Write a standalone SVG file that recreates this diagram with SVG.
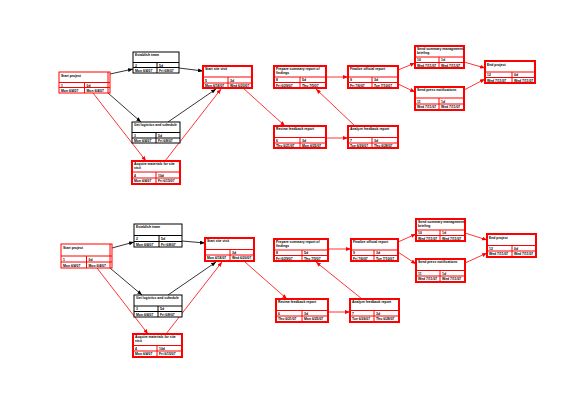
<svg xmlns="http://www.w3.org/2000/svg" width="585" height="411" viewBox="0 0 585 411">
<style>
.nr{fill:#fff;stroke:#f00;stroke-width:2}
.nt{fill:#fff;stroke:#f00;stroke-width:1}
.nb{fill:#fff;stroke:#000;stroke-width:1}
.lr{stroke:#f00;stroke-width:1;fill:none}
.lb{stroke:#000;stroke-width:1;fill:none}
.t{font-family:"Liberation Sans",Arial,sans-serif;font-size:3.4px;font-weight:bold;fill:#000}
.cr{stroke:#f00;stroke-width:0.8;fill:none;marker-end:url(#ar)}
.cb{stroke:#000;stroke-width:0.8;fill:none;marker-end:url(#ab)}
</style>
<defs>
<marker id="ab" markerWidth="5" markerHeight="4" refX="5" refY="2" orient="auto" markerUnits="userSpaceOnUse"><path d="M0,0 L5,2 L0,4z" fill="#000"/></marker>
<marker id="ar" markerWidth="5" markerHeight="4" refX="5" refY="2" orient="auto" markerUnits="userSpaceOnUse"><path d="M0,0 L5,2 L0,4z" fill="#f00"/></marker>
</defs>
<rect width="585" height="411" fill="#fff"/>

<g id="connectors">
<path class="cb" d="M110,74 L133,69"/>
<path class="cb" d="M108,93 L141,122"/>
<path class="cr" d="M93,93 L146,161"/>
<path class="cb" d="M179,68 L203,71"/>
<path class="cb" d="M168,122 L216,89"/>
<path class="cr" d="M165,161 L221,89"/>
<path class="cr" d="M243,88 L285,126"/>
<path class="cr" d="M326,77 L348,77"/>
<path class="cr" d="M326,138 L348,138"/>
<path class="cr" d="M355,126 L316,89"/>
<path class="cr" d="M398,70 L415,63"/>
<path class="cr" d="M398,84 L415,92"/>
<path class="cr" d="M464,62 L485,68"/>
<path class="cr" d="M464,90 L485,79"/>

<path class="cb" d="M112,248 L134,242"/>
<path class="cb" d="M110,268 L142,295"/>
<path class="cr" d="M97,268 L148,334"/>
<path class="cb" d="M182,241 L205,243"/>
<path class="cb" d="M168,295 L216,262"/>
<path class="cr" d="M166,334 L222,262"/>
<path class="cr" d="M245,262 L287,299"/>
<path class="cr" d="M328,249 L351,249"/>
<path class="cr" d="M328,312 L350,312"/>
<path class="cr" d="M362,299 L316,262"/>
<path class="cr" d="M398,242 L416,234"/>
<path class="cr" d="M398,252 L416,264"/>
<path class="cr" d="M465,233 L487,240"/>
<path class="cr" d="M465,263 L487,253"/>
</g>

<!-- TOP DIAGRAM -->
<g id="t1">
<rect class="nt" x="59" y="72" width="51" height="21"/>
<path class="lr" d="M59,82.5H110M59,87.5H110M84.5,82.5V93M108,72V93"/>
<text class="t" x="61" y="77">Start project</text>
<text class="t" x="61" y="86.5">1</text><text class="t" x="86.5" y="86.5">0d</text>
<text class="t" x="61" y="91.5">Mon 6/4/07</text><text class="t" x="86.5" y="91.5">Mon 6/4/07</text>
</g>
<g id="t2">
<rect class="nb" x="133" y="52" width="46" height="21"/>
<path class="lb" d="M133,62.5H179M133,67.5H179M157,62.5V73"/>
<text class="t" x="135" y="55.5">Establish team</text>
<text class="t" x="135" y="66.5">2</text><text class="t" x="159" y="66.5">5d</text>
<text class="t" x="135" y="71.5">Mon 6/4/07</text><text class="t" x="159" y="71.5">Fri 6/8/07</text>
</g>
<g id="t3">
<rect class="nb" x="132" y="122" width="48" height="21"/>
<path class="lb" d="M132,132.5H180M132,138H180M156,132.5V143"/>
<text class="t" x="134" y="126">Get logistics and schedule</text>
<text class="t" x="134" y="136.5">3</text><text class="t" x="158" y="136.5">5d</text>
<text class="t" x="134" y="142">Mon 6/4/07</text><text class="t" x="158" y="142">Fri 6/8/07</text>
</g>
<g id="t4">
<rect class="nr" x="132" y="161" width="48" height="23"/>
<path class="lr" d="M132,172H180M132,178H180M156,172V184"/>
<text class="t" x="134" y="165">Acquire materials for site</text>
<text class="t" x="134" y="169">visit</text>
<text class="t" x="134" y="176.5">4</text><text class="t" x="158" y="176.5">10d</text>
<text class="t" x="134" y="182">Mon 6/4/07</text><text class="t" x="158" y="182">Fri 6/15/07</text>
</g>
<g id="t5">
<rect class="nr" x="203" y="66" width="49" height="22"/>
<path class="lr" d="M203,77H252M203,83H252M228,77V88"/>
<text class="t" x="205" y="70">Start site visit</text>
<text class="t" x="205" y="81.5">5</text><text class="t" x="230" y="81.5">3d</text>
<text class="t" x="205" y="87">Mon 6/18/07</text><text class="t" x="230" y="87">Wed 6/20/07</text>
</g>
<g id="t6">
<rect class="nr" x="274" y="126" width="52" height="22"/>
<path class="lr" d="M274,137.5H326M274,143H326M300,137.5V148"/>
<text class="t" x="276" y="130">Review feedback report</text>
<text class="t" x="276" y="141.5">6</text><text class="t" x="302" y="141.5">3d</text>
<text class="t" x="276" y="146.5">Thu 6/21/07</text><text class="t" x="302" y="146.5">Mon 6/25/07</text>
</g>
<g id="t7">
<rect class="nr" x="348" y="126" width="50" height="22"/>
<path class="lr" d="M348,137.5H398M348,143H398M372,137.5V148"/>
<text class="t" x="350" y="130">Analyze feedback report</text>
<text class="t" x="350" y="141.5">7</text><text class="t" x="374" y="141.5">3d</text>
<text class="t" x="350" y="146.5">Tue 6/26/07</text><text class="t" x="374" y="146.5">Thu 6/28/07</text>
</g>
<g id="t8">
<rect class="nr" x="274" y="66" width="52" height="22"/>
<path class="lr" d="M274,77H326M274,82.5H326M300,77V88"/>
<text class="t" x="276" y="70">Prepare summary report of</text>
<text class="t" x="276" y="74">findings</text>
<text class="t" x="276" y="81">8</text><text class="t" x="302" y="81">5d</text>
<text class="t" x="276" y="86.5">Fri 6/29/07</text><text class="t" x="302" y="86.5">Thu 7/5/07</text>
</g>
<g id="t9">
<rect class="nr" x="348" y="66" width="50" height="22"/>
<path class="lr" d="M348,77H398M348,82.5H398M372,77V88"/>
<text class="t" x="350" y="70">Finalize official report</text>
<text class="t" x="350" y="81">9</text><text class="t" x="374" y="81">3d</text>
<text class="t" x="350" y="86.5">Fri 7/6/07</text><text class="t" x="374" y="86.5">Tue 7/10/07</text>
</g>
<g id="t10">
<rect class="nr" x="415" y="46" width="49" height="22"/>
<path class="lr" d="M415,57H464M415,62.5H464M439,57V68"/>
<text class="t" x="417" y="50">Send summary management</text>
<text class="t" x="417" y="54">briefing</text>
<text class="t" x="417" y="61">10</text><text class="t" x="441" y="61">1d</text>
<text class="t" x="417" y="66.5">Wed 7/11/07</text><text class="t" x="441" y="66.5">Wed 7/11/07</text>
</g>
<g id="t11">
<rect class="nr" x="415" y="87" width="49" height="23"/>
<path class="lr" d="M415,98H464M415,104H464M439,98V110"/>
<text class="t" x="417" y="91">Send press notifications</text>
<text class="t" x="417" y="102.5">11</text><text class="t" x="441" y="102.5">1d</text>
<text class="t" x="417" y="108">Wed 7/11/07</text><text class="t" x="441" y="108">Wed 7/11/07</text>
</g>
<g id="t12">
<rect class="nr" x="485" y="61" width="50" height="22"/>
<path class="lr" d="M485,72H535M485,77.5H535M512,72V83"/>
<text class="t" x="487" y="66">End project</text>
<text class="t" x="487" y="76">12</text><text class="t" x="514" y="76">0d</text>
<text class="t" x="487" y="81.5">Wed 7/11/07</text><text class="t" x="514" y="81.5">Wed 7/11/07</text>
</g>

<!-- BOTTOM DIAGRAM -->
<g id="b1">
<rect class="nt" x="61" y="244" width="51" height="24"/>
<path class="lr" d="M61,256H112M61,262H112M86.5,256V268M110,244V268"/>
<text class="t" x="63" y="249">Start project</text>
<text class="t" x="63" y="260.5">1</text><text class="t" x="88.5" y="260.5">0d</text>
<text class="t" x="63" y="266.5">Mon 6/4/07</text><text class="t" x="88.5" y="266.5">Mon 6/4/07</text>
</g>
<g id="b2">
<rect class="nb" x="134" y="224" width="48" height="23"/>
<path class="lb" d="M134,235.5H182M134,241.5H182M159,235.5V247"/>
<text class="t" x="136" y="228">Establish team</text>
<text class="t" x="136" y="240">2</text><text class="t" x="161" y="240">5d</text>
<text class="t" x="136" y="245.5">Mon 6/4/07</text><text class="t" x="161" y="245.5">Fri 6/8/07</text>
</g>
<g id="b3">
<rect class="nb" x="134" y="295" width="48" height="22"/>
<path class="lb" d="M134,306H182M134,311.5H182M158,306V317"/>
<text class="t" x="136" y="299">Get logistics and schedule</text>
<text class="t" x="136" y="310">3</text><text class="t" x="160" y="310">5d</text>
<text class="t" x="136" y="315.5">Mon 6/4/07</text><text class="t" x="160" y="315.5">Fri 6/8/07</text>
</g>
<g id="b4">
<rect class="nr" x="133" y="334" width="49" height="23"/>
<path class="lr" d="M133,345.5H182M133,351H182M157,345.5V357"/>
<text class="t" x="135" y="338">Acquire materials for site</text>
<text class="t" x="135" y="342">visit</text>
<text class="t" x="135" y="349.5">4</text><text class="t" x="159" y="349.5">10d</text>
<text class="t" x="135" y="355">Mon 6/4/07</text><text class="t" x="159" y="355">Fri 6/15/07</text>
</g>
<g id="b5">
<rect class="nr" x="205" y="238" width="49" height="23"/>
<path class="lr" d="M205,249.5H254M205,255H254M230,249.5V261"/>
<text class="t" x="207" y="242">Start site visit</text>
<text class="t" x="232" y="253.5">3d</text>
<text class="t" x="207" y="259">Mon 6/18/07</text><text class="t" x="232" y="259">Wed 6/20/07</text>
</g>
<g id="b6">
<rect class="nr" x="276" y="299" width="52" height="23"/>
<path class="lr" d="M276,310.5H328M276,316H328M302,310.5V322"/>
<text class="t" x="278" y="303">Review feedback report</text>
<text class="t" x="278" y="314.5">6</text><text class="t" x="304" y="314.5">3d</text>
<text class="t" x="278" y="320">Thu 6/21/07</text><text class="t" x="304" y="320">Mon 6/25/07</text>
</g>
<g id="b7">
<rect class="nr" x="350" y="299" width="49" height="23"/>
<path class="lr" d="M350,310.5H399M350,316H399M374,310.5V322"/>
<text class="t" x="352" y="303">Analyze feedback report</text>
<text class="t" x="352" y="314.5">7</text><text class="t" x="376" y="314.5">3d</text>
<text class="t" x="352" y="320">Tue 6/26/07</text><text class="t" x="376" y="320">Thu 6/28/07</text>
</g>
<g id="b8">
<rect class="nr" x="274" y="239" width="54" height="22"/>
<path class="lr" d="M274,250H328M274,255.5H328M302,250V261"/>
<text class="t" x="276" y="243">Prepare summary report of</text>
<text class="t" x="276" y="247">findings</text>
<text class="t" x="276" y="254">8</text><text class="t" x="304" y="254">5d</text>
<text class="t" x="276" y="259.5">Fri 6/29/07</text><text class="t" x="304" y="259.5">Thu 7/5/07</text>
</g>
<g id="b9">
<rect class="nr" x="351" y="239" width="47" height="22"/>
<path class="lr" d="M351,250H398M351,255.5H398M374,250V261"/>
<text class="t" x="353" y="243">Finalize official report</text>
<text class="t" x="353" y="254">9</text><text class="t" x="376" y="254">3d</text>
<text class="t" x="353" y="259.5">Fri 7/6/07</text><text class="t" x="376" y="259.5">Tue 7/10/07</text>
</g>
<g id="b10">
<rect class="nr" x="416" y="219" width="49" height="22"/>
<path class="lr" d="M416,230H465M416,235.5H465M440,230V241"/>
<text class="t" x="418" y="223">Send summary management</text>
<text class="t" x="418" y="227">briefing</text>
<text class="t" x="418" y="234">10</text><text class="t" x="442" y="234">1d</text>
<text class="t" x="418" y="239.5">Wed 7/11/07</text><text class="t" x="442" y="239.5">Wed 7/11/07</text>
</g>
<g id="b11">
<rect class="nr" x="416" y="259" width="49" height="23"/>
<path class="lr" d="M416,270.5H465M416,276H465M440,270.5V282"/>
<text class="t" x="418" y="263">Send press notifications</text>
<text class="t" x="418" y="274.5">11</text><text class="t" x="442" y="274.5">1d</text>
<text class="t" x="418" y="280">Wed 7/11/07</text><text class="t" x="442" y="280">Wed 7/11/07</text>
</g>
<g id="b12">
<rect class="nr" x="487" y="234" width="49" height="23"/>
<path class="lr" d="M487,245.5H536M487,251H536M512,245.5V257"/>
<text class="t" x="489" y="239">End project</text>
<text class="t" x="489" y="249.5">12</text><text class="t" x="514" y="249.5">0d</text>
<text class="t" x="489" y="255">Wed 7/11/07</text><text class="t" x="514" y="255">Wed 7/11/07</text>
</g>
</svg>
